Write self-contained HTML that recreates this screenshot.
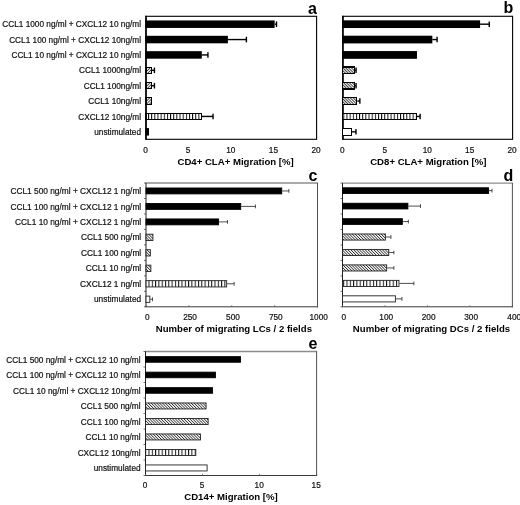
<!DOCTYPE html>
<html lang="en"><head><meta charset="utf-8"><title>Chemokine migration figure</title>
<style>
html,body{margin:0;padding:0;background:#fff;}
body{width:520px;height:505px;overflow:hidden;}
svg{display:block;}
text{font-family:"Liberation Sans",sans-serif;fill:#111;stroke:#111;stroke-width:0.2px;}
.lab{font-size:8.33px;text-anchor:end;}
.tick{font-size:8.25px;text-anchor:middle;}
.title{font-size:9.6px;font-weight:bold;text-anchor:middle;fill:#000;stroke:none;}
.let{font-size:16px;font-weight:bold;text-anchor:end;fill:#000;stroke:none;}
</style></head><body>
<svg width="520" height="505" viewBox="0 0 520 505">
<defs>
<pattern id="hatchA" width="2.1" height="2.1" patternUnits="userSpaceOnUse" patternTransform="rotate(45) translate(0.4 0)"><rect width="2.1" height="2.1" fill="#fff"/><rect width="0.8" height="2.1" fill="#222"/></pattern>
<pattern id="hatchA2" width="2.0" height="2.0" patternUnits="userSpaceOnUse" patternTransform="rotate(-45)"><rect width="2.0" height="2.0" fill="#fff"/><rect width="0.8" height="2.0" fill="#111"/></pattern>
<pattern id="hatchB" width="2.03" height="2.03" patternUnits="userSpaceOnUse" patternTransform="rotate(-45)"><rect width="2.03" height="2.03" fill="#fff"/><rect width="0.75" height="2.03" fill="#222"/></pattern>
<pattern id="vertA" width="3.15" height="8" patternUnits="userSpaceOnUse"><rect width="3.15" height="8" fill="#fff"/><rect width="0.95" height="8" fill="#000"/></pattern>
<pattern id="vertB" width="3.3" height="8" patternUnits="userSpaceOnUse"><rect width="3.3" height="8" fill="#fff"/><rect width="1.0" height="8" fill="#111"/></pattern>
</defs>
<rect width="520" height="505" fill="#fff"/>
<g id="panel-a">
<rect x="146.00" y="16.30" width="170.60" height="123.00" fill="#fff" stroke="#000" stroke-width="1.1"/>
<line x1="146.00" y1="15.80" x2="146.00" y2="139.80" stroke="#000" stroke-width="1.5"/>
<line x1="274.63" y1="24.19" x2="276.51" y2="24.19" stroke="#000" stroke-width="1.4"/>
<line x1="276.51" y1="21.39" x2="276.51" y2="26.99" stroke="#000" stroke-width="1.4"/>
<rect x="146.00" y="21.14" width="127.93" height="6.10" fill="#000" stroke="#000" stroke-width="1.40"/>
<line x1="227.89" y1="39.56" x2="246.40" y2="39.56" stroke="#000" stroke-width="1.4"/>
<line x1="246.40" y1="36.76" x2="246.40" y2="42.36" stroke="#000" stroke-width="1.4"/>
<rect x="146.00" y="36.51" width="81.19" height="6.10" fill="#000" stroke="#000" stroke-width="1.40"/>
<line x1="201.79" y1="54.94" x2="207.93" y2="54.94" stroke="#000" stroke-width="1.4"/>
<line x1="207.93" y1="52.14" x2="207.93" y2="57.74" stroke="#000" stroke-width="1.4"/>
<rect x="146.00" y="51.89" width="55.09" height="6.10" fill="#000" stroke="#000" stroke-width="1.40"/>
<line x1="151.72" y1="70.31" x2="154.44" y2="70.31" stroke="#000" stroke-width="1.4"/>
<line x1="154.44" y1="67.51" x2="154.44" y2="73.11" stroke="#000" stroke-width="1.4"/>
<rect x="146.00" y="67.14" width="5.14" height="6.35" fill="url(#hatchA)" stroke="#000" stroke-width="1.15" shape-rendering="crispEdges"/>
<line x1="151.72" y1="85.69" x2="154.44" y2="85.69" stroke="#000" stroke-width="1.4"/>
<line x1="154.44" y1="82.89" x2="154.44" y2="88.49" stroke="#000" stroke-width="1.4"/>
<rect x="146.00" y="82.51" width="5.14" height="6.35" fill="url(#hatchA)" stroke="#000" stroke-width="1.15" shape-rendering="crispEdges"/>
<rect x="146.00" y="97.89" width="5.14" height="6.35" fill="url(#hatchA)" stroke="#000" stroke-width="1.15" shape-rendering="crispEdges"/>
<line x1="201.70" y1="116.44" x2="213.05" y2="116.44" stroke="#000" stroke-width="1.4"/>
<line x1="213.05" y1="113.64" x2="213.05" y2="119.24" stroke="#000" stroke-width="1.4"/>
<rect x="146.00" y="113.26" width="55.13" height="6.35" fill="url(#vertA)" stroke="#000" stroke-width="1.15" shape-rendering="crispEdges"/>
<rect x="146.00" y="128.76" width="2.29" height="6.10" fill="#000" stroke="#000" stroke-width="1.40"/>
<text class="lab" style="font-size:8.26px" x="141.00" y="27.29">CCL1 1000 ng/ml + CXCL12 10 ng/ml</text>
<text class="lab" style="font-size:8.26px" x="141.00" y="42.66">CCL1 100 ng/ml + CXCL12 10ng/ml</text>
<text class="lab" style="font-size:8.26px" x="141.00" y="58.04">CCL1 10 ng/ml + CXCL12 10 ng/ml</text>
<text class="lab" style="font-size:8.26px" x="141.00" y="73.41">CCL1 1000ng/ml</text>
<text class="lab" style="font-size:8.26px" x="141.00" y="88.79">CCL1 100ng/ml</text>
<text class="lab" style="font-size:8.26px" x="141.00" y="104.16">CCL1 10ng/ml</text>
<text class="lab" style="font-size:8.26px" x="141.00" y="119.54">CXCL12 10ng/ml</text>
<text class="lab" style="font-size:8.26px" x="141.00" y="134.91">unstimulated</text>
<text class="tick" x="145.50" y="152.80">0</text>
<text class="tick" x="188.15" y="152.80">5</text>
<text class="tick" x="230.80" y="152.80">10</text>
<text class="tick" x="273.45" y="152.80">15</text>
<text class="tick" x="316.10" y="152.80">20</text>
<text class="title" x="235.60" y="165.20">CD4+ CLA+ Migration [%]</text>
<text class="let" x="317.00" y="14.00">a</text>
</g>
<g id="panel-b">
<rect x="342.90" y="16.30" width="169.70" height="123.00" fill="#fff" stroke="#000" stroke-width="1.1"/>
<line x1="342.90" y1="15.80" x2="342.90" y2="139.80" stroke="#000" stroke-width="1.5"/>
<line x1="480.10" y1="24.19" x2="489.27" y2="24.19" stroke="#000" stroke-width="1.4"/>
<line x1="489.27" y1="21.39" x2="489.27" y2="26.99" stroke="#000" stroke-width="1.4"/>
<rect x="342.90" y="21.04" width="136.50" height="6.30" fill="#000" stroke="#000" stroke-width="1.40"/>
<line x1="432.33" y1="39.56" x2="437.08" y2="39.56" stroke="#000" stroke-width="1.4"/>
<line x1="437.08" y1="36.76" x2="437.08" y2="42.36" stroke="#000" stroke-width="1.4"/>
<rect x="342.90" y="36.41" width="88.73" height="6.30" fill="#000" stroke="#000" stroke-width="1.40"/>
<rect x="342.90" y="51.79" width="73.37" height="6.30" fill="#000" stroke="#000" stroke-width="1.40"/>
<line x1="355.20" y1="70.31" x2="356.05" y2="70.31" stroke="#000" stroke-width="1.4"/>
<line x1="356.05" y1="67.51" x2="356.05" y2="73.11" stroke="#000" stroke-width="1.4"/>
<rect x="342.90" y="67.04" width="11.73" height="6.55" fill="url(#hatchA2)" stroke="#000" stroke-width="1.15" shape-rendering="crispEdges"/>
<line x1="355.20" y1="85.69" x2="356.05" y2="85.69" stroke="#000" stroke-width="1.4"/>
<line x1="356.05" y1="82.89" x2="356.05" y2="88.49" stroke="#000" stroke-width="1.4"/>
<rect x="342.90" y="82.41" width="11.73" height="6.55" fill="url(#hatchA2)" stroke="#000" stroke-width="1.15" shape-rendering="crispEdges"/>
<line x1="357.32" y1="101.06" x2="359.87" y2="101.06" stroke="#000" stroke-width="1.4"/>
<line x1="359.87" y1="98.26" x2="359.87" y2="103.86" stroke="#000" stroke-width="1.4"/>
<rect x="342.90" y="97.79" width="13.85" height="6.55" fill="url(#hatchA2)" stroke="#000" stroke-width="1.15" shape-rendering="crispEdges"/>
<line x1="417.06" y1="116.44" x2="420.11" y2="116.44" stroke="#000" stroke-width="1.4"/>
<line x1="420.11" y1="113.64" x2="420.11" y2="119.24" stroke="#000" stroke-width="1.4"/>
<rect x="342.90" y="113.16" width="73.58" height="6.55" fill="url(#vertA)" stroke="#000" stroke-width="1.15" shape-rendering="crispEdges"/>
<line x1="352.06" y1="131.81" x2="355.97" y2="131.81" stroke="#000" stroke-width="1.4"/>
<line x1="355.97" y1="129.01" x2="355.97" y2="134.61" stroke="#000" stroke-width="1.4"/>
<rect x="342.90" y="128.54" width="8.59" height="6.55" fill="#fff" stroke="#000" stroke-width="1.15" shape-rendering="crispEdges"/>
<text class="tick" x="342.40" y="152.80">0</text>
<text class="tick" x="384.82" y="152.80">5</text>
<text class="tick" x="427.25" y="152.80">10</text>
<text class="tick" x="469.68" y="152.80">15</text>
<text class="tick" x="512.10" y="152.80">20</text>
<text class="title" x="428.30" y="165.20">CD8+ CLA+ Migration [%]</text>
<text class="let" x="513.40" y="13.20">b</text>
</g>
<g id="panel-c">
<rect x="146.00" y="183.00" width="171.50" height="123.80" fill="#fff" stroke="none"/>
<line x1="145.50" y1="183.00" x2="318.00" y2="183.00" stroke="#8c8c8c" stroke-width="1.4"/>
<line x1="317.50" y1="183.00" x2="317.50" y2="307.30" stroke="#505050" stroke-width="1.0"/>
<line x1="145.50" y1="306.80" x2="318.00" y2="306.80" stroke="#3a3a3a" stroke-width="1.0"/>
<line x1="146.00" y1="183.00" x2="146.00" y2="306.80" stroke="#222" stroke-width="1.0"/>
<line x1="144.00" y1="183.00" x2="146.00" y2="183.00" stroke="#333" stroke-width="0.7"/>
<line x1="144.00" y1="198.47" x2="146.00" y2="198.47" stroke="#333" stroke-width="0.7"/>
<line x1="144.00" y1="213.95" x2="146.00" y2="213.95" stroke="#333" stroke-width="0.7"/>
<line x1="144.00" y1="229.43" x2="146.00" y2="229.43" stroke="#333" stroke-width="0.7"/>
<line x1="144.00" y1="244.90" x2="146.00" y2="244.90" stroke="#333" stroke-width="0.7"/>
<line x1="144.00" y1="260.38" x2="146.00" y2="260.38" stroke="#333" stroke-width="0.7"/>
<line x1="144.00" y1="275.85" x2="146.00" y2="275.85" stroke="#333" stroke-width="0.7"/>
<line x1="144.00" y1="291.33" x2="146.00" y2="291.33" stroke="#333" stroke-width="0.7"/>
<line x1="144.00" y1="306.80" x2="146.00" y2="306.80" stroke="#333" stroke-width="0.7"/>
<line x1="146.00" y1="305.20" x2="146.00" y2="306.80" stroke="#555" stroke-width="0.7"/>
<line x1="188.88" y1="305.20" x2="188.88" y2="306.80" stroke="#555" stroke-width="0.7"/>
<line x1="231.75" y1="305.20" x2="231.75" y2="306.80" stroke="#555" stroke-width="0.7"/>
<line x1="274.62" y1="305.20" x2="274.62" y2="306.80" stroke="#555" stroke-width="0.7"/>
<line x1="317.50" y1="305.20" x2="317.50" y2="306.80" stroke="#555" stroke-width="0.7"/>
<line x1="282.17" y1="190.94" x2="288.86" y2="190.94" stroke="#222" stroke-width="0.8"/>
<line x1="288.86" y1="189.04" x2="288.86" y2="192.84" stroke="#222" stroke-width="0.8"/>
<rect x="146.00" y="187.99" width="135.72" height="5.90" fill="#000" stroke="#000" stroke-width="0.90"/>
<line x1="241.18" y1="206.41" x2="255.42" y2="206.41" stroke="#222" stroke-width="0.8"/>
<line x1="255.42" y1="204.51" x2="255.42" y2="208.31" stroke="#222" stroke-width="0.8"/>
<rect x="146.00" y="203.46" width="94.73" height="5.90" fill="#000" stroke="#000" stroke-width="0.90"/>
<line x1="219.06" y1="221.89" x2="227.46" y2="221.89" stroke="#222" stroke-width="0.8"/>
<line x1="227.46" y1="219.99" x2="227.46" y2="223.79" stroke="#222" stroke-width="0.8"/>
<rect x="146.00" y="218.94" width="72.61" height="5.90" fill="#000" stroke="#000" stroke-width="0.90"/>
<rect x="146.00" y="234.21" width="6.92" height="6.30" fill="url(#hatchB)" stroke="#222" stroke-width="0.90"/>
<rect x="146.00" y="249.69" width="4.35" height="6.30" fill="url(#hatchB)" stroke="#222" stroke-width="0.90"/>
<rect x="146.00" y="265.16" width="4.87" height="6.30" fill="url(#hatchB)" stroke="#222" stroke-width="0.90"/>
<line x1="227.12" y1="283.79" x2="234.15" y2="283.79" stroke="#222" stroke-width="0.8"/>
<line x1="234.15" y1="281.89" x2="234.15" y2="285.69" stroke="#222" stroke-width="0.8"/>
<rect x="146.00" y="280.64" width="80.67" height="6.30" fill="url(#vertB)" stroke="#222" stroke-width="0.90"/>
<line x1="150.29" y1="299.26" x2="152.52" y2="299.26" stroke="#222" stroke-width="0.8"/>
<line x1="152.52" y1="297.36" x2="152.52" y2="301.16" stroke="#222" stroke-width="0.8"/>
<rect x="146.00" y="296.11" width="3.84" height="6.30" fill="#fff" stroke="#222" stroke-width="0.90"/>
<text class="lab" style="font-size:8.33px" x="141.20" y="194.04">CCL1 500 ng/ml + CXCL12 1 ng/ml</text>
<text class="lab" style="font-size:8.33px" x="141.20" y="209.51">CCL1 100 ng/ml + CXCL12 1 ng/ml</text>
<text class="lab" style="font-size:8.33px" x="141.20" y="224.99">CCL1 10 ng/ml + CXCL12 1 ng/ml</text>
<text class="lab" style="font-size:8.33px" x="141.20" y="240.46">CCL1 500 ng/ml</text>
<text class="lab" style="font-size:8.33px" x="141.20" y="255.94">CCL1 100 ng/ml</text>
<text class="lab" style="font-size:8.33px" x="141.20" y="271.41">CCL1 10 ng/ml</text>
<text class="lab" style="font-size:8.33px" x="141.20" y="286.89">CXCL12 1 ng/ml</text>
<text class="lab" style="font-size:8.33px" x="141.20" y="302.36">unstimulated</text>
<text class="tick" x="147.20" y="320.30">0</text>
<text class="tick" x="190.07" y="320.30">250</text>
<text class="tick" x="232.95" y="320.30">500</text>
<text class="tick" x="275.82" y="320.30">750</text>
<text class="tick" x="318.70" y="320.30">1000</text>
<text class="title" x="233.90" y="331.60">Number of migrating LCs / 2 fields</text>
<text class="let" x="317.40" y="180.80">c</text>
</g>
<g id="panel-d">
<rect x="342.50" y="183.10" width="169.90" height="123.70" fill="#fff" stroke="none"/>
<line x1="342.00" y1="183.10" x2="512.90" y2="183.10" stroke="#8c8c8c" stroke-width="1.4"/>
<line x1="512.40" y1="183.10" x2="512.40" y2="307.30" stroke="#505050" stroke-width="1.0"/>
<line x1="342.00" y1="306.80" x2="512.90" y2="306.80" stroke="#3a3a3a" stroke-width="1.0"/>
<line x1="342.50" y1="183.10" x2="342.50" y2="306.80" stroke="#222" stroke-width="1.0"/>
<line x1="340.50" y1="183.10" x2="342.50" y2="183.10" stroke="#333" stroke-width="0.7"/>
<line x1="340.50" y1="198.56" x2="342.50" y2="198.56" stroke="#333" stroke-width="0.7"/>
<line x1="340.50" y1="214.03" x2="342.50" y2="214.03" stroke="#333" stroke-width="0.7"/>
<line x1="340.50" y1="229.49" x2="342.50" y2="229.49" stroke="#333" stroke-width="0.7"/>
<line x1="340.50" y1="244.95" x2="342.50" y2="244.95" stroke="#333" stroke-width="0.7"/>
<line x1="340.50" y1="260.41" x2="342.50" y2="260.41" stroke="#333" stroke-width="0.7"/>
<line x1="340.50" y1="275.88" x2="342.50" y2="275.88" stroke="#333" stroke-width="0.7"/>
<line x1="340.50" y1="291.34" x2="342.50" y2="291.34" stroke="#333" stroke-width="0.7"/>
<line x1="340.50" y1="306.80" x2="342.50" y2="306.80" stroke="#333" stroke-width="0.7"/>
<line x1="342.50" y1="305.20" x2="342.50" y2="306.80" stroke="#555" stroke-width="0.7"/>
<line x1="384.98" y1="305.20" x2="384.98" y2="306.80" stroke="#555" stroke-width="0.7"/>
<line x1="427.45" y1="305.20" x2="427.45" y2="306.80" stroke="#555" stroke-width="0.7"/>
<line x1="469.92" y1="305.20" x2="469.92" y2="306.80" stroke="#555" stroke-width="0.7"/>
<line x1="512.40" y1="305.20" x2="512.40" y2="306.80" stroke="#555" stroke-width="0.7"/>
<line x1="489.04" y1="190.63" x2="492.01" y2="190.63" stroke="#222" stroke-width="0.8"/>
<line x1="492.01" y1="188.73" x2="492.01" y2="192.53" stroke="#222" stroke-width="0.8"/>
<rect x="342.50" y="187.78" width="146.09" height="5.70" fill="#000" stroke="#000" stroke-width="0.90"/>
<line x1="408.34" y1="206.09" x2="420.44" y2="206.09" stroke="#222" stroke-width="0.8"/>
<line x1="420.44" y1="204.19" x2="420.44" y2="207.99" stroke="#222" stroke-width="0.8"/>
<rect x="342.50" y="203.24" width="65.39" height="5.70" fill="#000" stroke="#000" stroke-width="0.90"/>
<line x1="402.81" y1="221.56" x2="408.34" y2="221.56" stroke="#222" stroke-width="0.8"/>
<line x1="408.34" y1="219.66" x2="408.34" y2="223.46" stroke="#222" stroke-width="0.8"/>
<rect x="342.50" y="218.71" width="59.86" height="5.70" fill="#000" stroke="#000" stroke-width="0.90"/>
<line x1="385.82" y1="237.02" x2="390.92" y2="237.02" stroke="#222" stroke-width="0.8"/>
<line x1="390.92" y1="235.12" x2="390.92" y2="238.92" stroke="#222" stroke-width="0.8"/>
<rect x="342.50" y="233.97" width="42.87" height="6.10" fill="url(#hatchB)" stroke="#222" stroke-width="0.90"/>
<line x1="389.22" y1="252.48" x2="393.89" y2="252.48" stroke="#222" stroke-width="0.8"/>
<line x1="393.89" y1="250.58" x2="393.89" y2="254.38" stroke="#222" stroke-width="0.8"/>
<rect x="342.50" y="249.43" width="46.27" height="6.10" fill="url(#hatchB)" stroke="#222" stroke-width="0.90"/>
<line x1="387.10" y1="267.94" x2="393.89" y2="267.94" stroke="#222" stroke-width="0.8"/>
<line x1="393.89" y1="266.04" x2="393.89" y2="269.84" stroke="#222" stroke-width="0.8"/>
<rect x="342.50" y="264.89" width="44.15" height="6.10" fill="url(#hatchB)" stroke="#222" stroke-width="0.90"/>
<line x1="399.42" y1="283.41" x2="413.86" y2="283.41" stroke="#222" stroke-width="0.8"/>
<line x1="413.86" y1="281.51" x2="413.86" y2="285.31" stroke="#222" stroke-width="0.8"/>
<rect x="342.50" y="280.36" width="56.47" height="6.10" fill="url(#vertB)" stroke="#222" stroke-width="0.90"/>
<line x1="395.85" y1="298.87" x2="401.96" y2="298.87" stroke="#222" stroke-width="0.8"/>
<line x1="401.96" y1="296.97" x2="401.96" y2="300.77" stroke="#222" stroke-width="0.8"/>
<rect x="342.50" y="295.82" width="52.90" height="6.10" fill="#fff" stroke="#222" stroke-width="0.90"/>
<text class="tick" x="343.70" y="320.30">0</text>
<text class="tick" x="386.18" y="320.30">100</text>
<text class="tick" x="428.65" y="320.30">200</text>
<text class="tick" x="471.12" y="320.30">300</text>
<text class="tick" x="514.20" y="320.30">400</text>
<text class="title" x="431.50" y="331.60">Number of migrating DCs / 2 fields</text>
<text class="let" x="513.20" y="181.10">d</text>
</g>
<g id="panel-e">
<rect x="145.50" y="351.50" width="171.10" height="124.00" fill="#fff" stroke="none"/>
<line x1="145.00" y1="351.50" x2="317.10" y2="351.50" stroke="#8c8c8c" stroke-width="1.4"/>
<line x1="316.60" y1="351.50" x2="316.60" y2="476.00" stroke="#505050" stroke-width="1.0"/>
<line x1="145.00" y1="475.50" x2="317.10" y2="475.50" stroke="#3a3a3a" stroke-width="1.0"/>
<line x1="145.50" y1="351.50" x2="145.50" y2="475.50" stroke="#222" stroke-width="1.0"/>
<line x1="143.50" y1="351.50" x2="145.50" y2="351.50" stroke="#333" stroke-width="0.7"/>
<line x1="143.50" y1="367.00" x2="145.50" y2="367.00" stroke="#333" stroke-width="0.7"/>
<line x1="143.50" y1="382.50" x2="145.50" y2="382.50" stroke="#333" stroke-width="0.7"/>
<line x1="143.50" y1="398.00" x2="145.50" y2="398.00" stroke="#333" stroke-width="0.7"/>
<line x1="143.50" y1="413.50" x2="145.50" y2="413.50" stroke="#333" stroke-width="0.7"/>
<line x1="143.50" y1="429.00" x2="145.50" y2="429.00" stroke="#333" stroke-width="0.7"/>
<line x1="143.50" y1="444.50" x2="145.50" y2="444.50" stroke="#333" stroke-width="0.7"/>
<line x1="143.50" y1="460.00" x2="145.50" y2="460.00" stroke="#333" stroke-width="0.7"/>
<line x1="143.50" y1="475.50" x2="145.50" y2="475.50" stroke="#333" stroke-width="0.7"/>
<line x1="145.50" y1="473.90" x2="145.50" y2="475.50" stroke="#555" stroke-width="0.7"/>
<line x1="202.53" y1="473.90" x2="202.53" y2="475.50" stroke="#555" stroke-width="0.7"/>
<line x1="259.57" y1="473.90" x2="259.57" y2="475.50" stroke="#555" stroke-width="0.7"/>
<line x1="316.60" y1="473.90" x2="316.60" y2="475.50" stroke="#555" stroke-width="0.7"/>
<rect x="145.50" y="356.65" width="95.02" height="5.60" fill="#000" stroke="#000" stroke-width="0.90"/>
<rect x="145.50" y="372.15" width="69.93" height="5.60" fill="#000" stroke="#000" stroke-width="0.90"/>
<rect x="145.50" y="387.65" width="67.08" height="5.60" fill="#000" stroke="#000" stroke-width="0.90"/>
<rect x="145.50" y="402.95" width="60.58" height="6.00" fill="url(#hatchB)" stroke="#222" stroke-width="0.90"/>
<rect x="145.50" y="418.45" width="62.63" height="6.00" fill="url(#hatchB)" stroke="#222" stroke-width="0.90"/>
<rect x="145.50" y="433.95" width="54.99" height="6.00" fill="url(#hatchB)" stroke="#222" stroke-width="0.90"/>
<rect x="145.50" y="449.45" width="50.31" height="6.00" fill="url(#vertB)" stroke="#222" stroke-width="0.90"/>
<rect x="145.50" y="464.95" width="61.60" height="6.00" fill="#fff" stroke="#222" stroke-width="0.90"/>
<text class="lab" style="font-size:8.28px" x="140.60" y="362.55">CCL1 500 ng/ml + CXCL12 10 ng/ml</text>
<text class="lab" style="font-size:8.28px" x="140.60" y="378.05">CCL1 100 ng/ml + CXCL12 10 ng/ml</text>
<text class="lab" style="font-size:8.28px" x="140.60" y="393.55">CCL1 10 ng/ml + CXCL12 10ng/ml</text>
<text class="lab" style="font-size:8.28px" x="140.60" y="409.05">CCL1 500 ng/ml</text>
<text class="lab" style="font-size:8.28px" x="140.60" y="424.55">CCL1 100 ng/ml</text>
<text class="lab" style="font-size:8.28px" x="140.60" y="440.05">CCL1 10 ng/ml</text>
<text class="lab" style="font-size:8.28px" x="140.60" y="455.55">CXCL12 10ng/ml</text>
<text class="lab" style="font-size:8.28px" x="140.60" y="471.05">unstimulated</text>
<text class="tick" x="145.10" y="488.00">0</text>
<text class="tick" x="202.13" y="488.00">5</text>
<text class="tick" x="259.17" y="488.00">10</text>
<text class="tick" x="316.20" y="488.00">15</text>
<text class="title" x="231.00" y="500.30">CD14+ Migration [%]</text>
<text class="let" x="317.40" y="349.40">e</text>
</g>
</svg>
</body></html>
